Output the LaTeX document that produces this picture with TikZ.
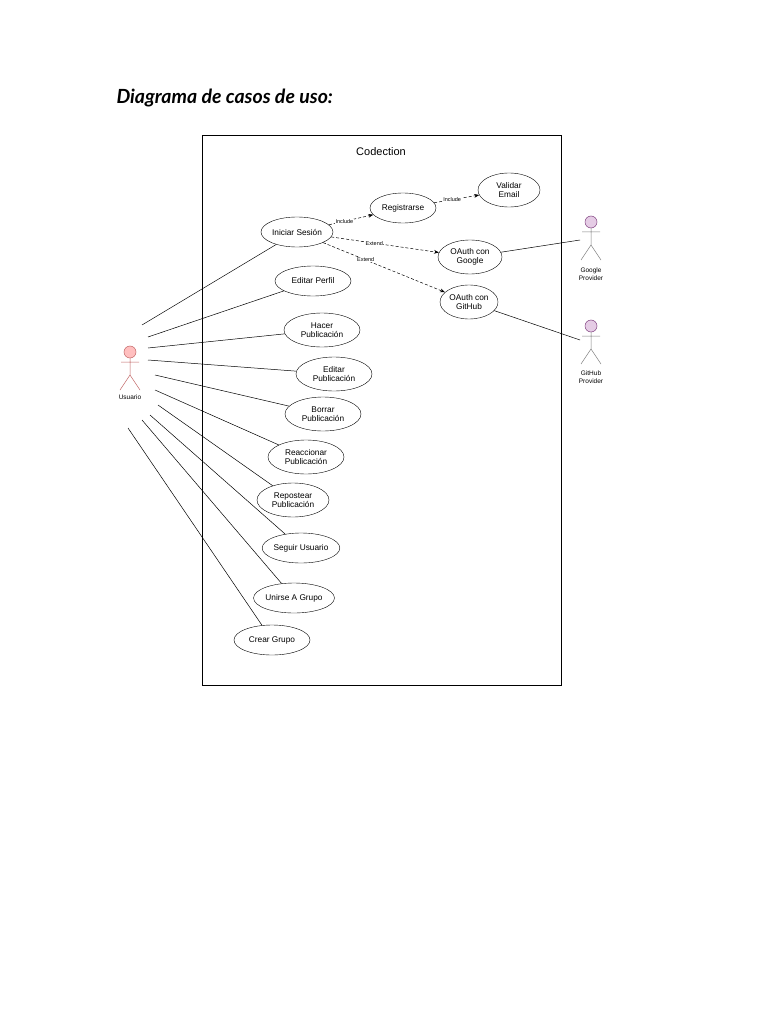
\documentclass[tikz,border=0pt]{standalone}
\usepackage{fontspec}
\setmainfont{Liberation Sans}
\newfontfamily\titlefont{Lato}
\usetikzlibrary{arrows.meta,shapes.geometric}
\begin{document}
\begin{tikzpicture}[x=1pt,y=-1pt,
  uc/.style={draw,ellipse,inner sep=0pt,font=\fontsize{8.3}{9.3}\selectfont,align=center},
  assoc/.style={draw,line width=0.5pt},
  dep/.style={draw,densely dashed,-{Stealth[length=5pt]},line width=0.5pt},
  lbl/.style={font=\fontsize{5.5}{6.5}\selectfont,fill=white,inner sep=0.5pt},
  act/.style={line width=0.5pt}]
\useasboundingbox (0,0) rectangle (768,1024);
\fill[white] (0,0) rectangle (768,1024);
\node[anchor=west,font=\titlefont\bfseries\itshape\fontsize{19.5}{21}\selectfont] (title) at (113,98) {Diagrama de casos de uso:};
\draw[line width=0.7pt] (202,135) rectangle (561,685);
\node[font=\fontsize{11}{13}\selectfont] (sys) at (381,152) {Codection};
% use cases
\node[uc,minimum width=72,minimum height=30] (ini) at (297,232) {Iniciar Sesión};
\node[uc,minimum width=66,minimum height=30] (reg) at (403,208) {Registrarse};
\node[uc,minimum width=62,minimum height=34] (val) at (509,190) {Validar\\Email};
\node[uc,minimum width=64,minimum height=34] (goo) at (470,257) {OAuth con\\Google};
\node[uc,minimum width=58,minimum height=34] (git) at (469,302) {OAuth con\\GitHub};
\node[uc,minimum width=76,minimum height=30] (per) at (313,281) {Editar Perfil};
\node[uc,minimum width=76,minimum height=34] (hac) at (322,330) {Hacer\\Publicación};
\node[uc,minimum width=76,minimum height=34] (edp) at (334,374) {Editar\\Publicación};
\node[uc,minimum width=76,minimum height=34] (bor) at (323,414) {Borrar\\Publicación};
\node[uc,minimum width=76,minimum height=34] (rea) at (306,457) {Reaccionar\\Publicación};
\node[uc,minimum width=72,minimum height=34] (rep) at (293,500) {Repostear\\Publicación};
\node[uc,minimum width=72,minimum height=30] (seg) at (301,548) {Seguir Usuario};
\node[uc,minimum width=72,minimum height=30] (uni) at (294,598) {Unirse A Grupo};
\node[uc,minimum width=76,minimum height=30] (cre) at (272,640) {Crear Grupo};
% dependencies
\draw[dep] (ini) -- node[lbl,pos=0.35]{Include} (reg);
\draw[dep] (reg) -- node[lbl,pos=0.4]{Include} (val);
\draw[dep] (ini) -- node[lbl,pos=0.4]{Extend} (goo);
\draw[dep] (ini) -- node[lbl,pos=0.35]{Extend} (git);
% actors
\draw[act,draw=red!60!black!60,fill=red!25] (130,352) circle (6);
\draw[act,draw=red!60!black!60] (130,358) -- (130,375) (121,362) -- (139,362) (120,390) -- (130,375) -- (140,390);
\node[font=\fontsize{6.5}{7.5}\selectfont] (usr) at (130,397) {Usuario};
\draw[act,draw=violet!50!gray,fill=violet!20] (591,222) circle (6);
\draw[act,draw=gray] (591,228) -- (591,245) (582,232) -- (600,232) (581,260) -- (591,245) -- (601,260);
\node[font=\fontsize{6.5}{7.5}\selectfont,align=center] (gp) at (591,274) {Google\\Provider};
\draw[act,draw=violet!50!gray,fill=violet!20] (591,326) circle (6);
\draw[act,draw=gray] (591,332) -- (591,349) (582,336) -- (600,336) (581,364) -- (591,349) -- (601,364);
\node[font=\fontsize{6.5}{7.5}\selectfont,align=center] (ghp) at (591,377) {GitHub\\Provider};
\coordinate (ga) at (580,240);
\coordinate (gha) at (580,340);
\draw[assoc] (goo) -- (ga);
\draw[assoc] (git) -- (gha);
% user associations
\coordinate (u1) at (142,325); \coordinate (u2) at (148,337);
\coordinate (u3) at (148,348); \coordinate (u4) at (148,360);
\coordinate (u5) at (155,375); \coordinate (u6) at (155,390);
\coordinate (u7) at (158,405); \coordinate (u8) at (150,415);
\coordinate (u9) at (142,420); \coordinate (u10) at (128,428);
\draw[assoc] (u1) -- (ini);
\draw[assoc] (u2) -- (per);
\draw[assoc] (u3) -- (hac);
\draw[assoc] (u4) -- (edp);
\draw[assoc] (u5) -- (bor);
\draw[assoc] (u6) -- (rea);
\draw[assoc] (u7) -- (rep);
\draw[assoc] (u8) -- (seg);
\draw[assoc] (u9) -- (uni);
\draw[assoc] (u10) -- (cre);
\end{tikzpicture}
\end{document}
